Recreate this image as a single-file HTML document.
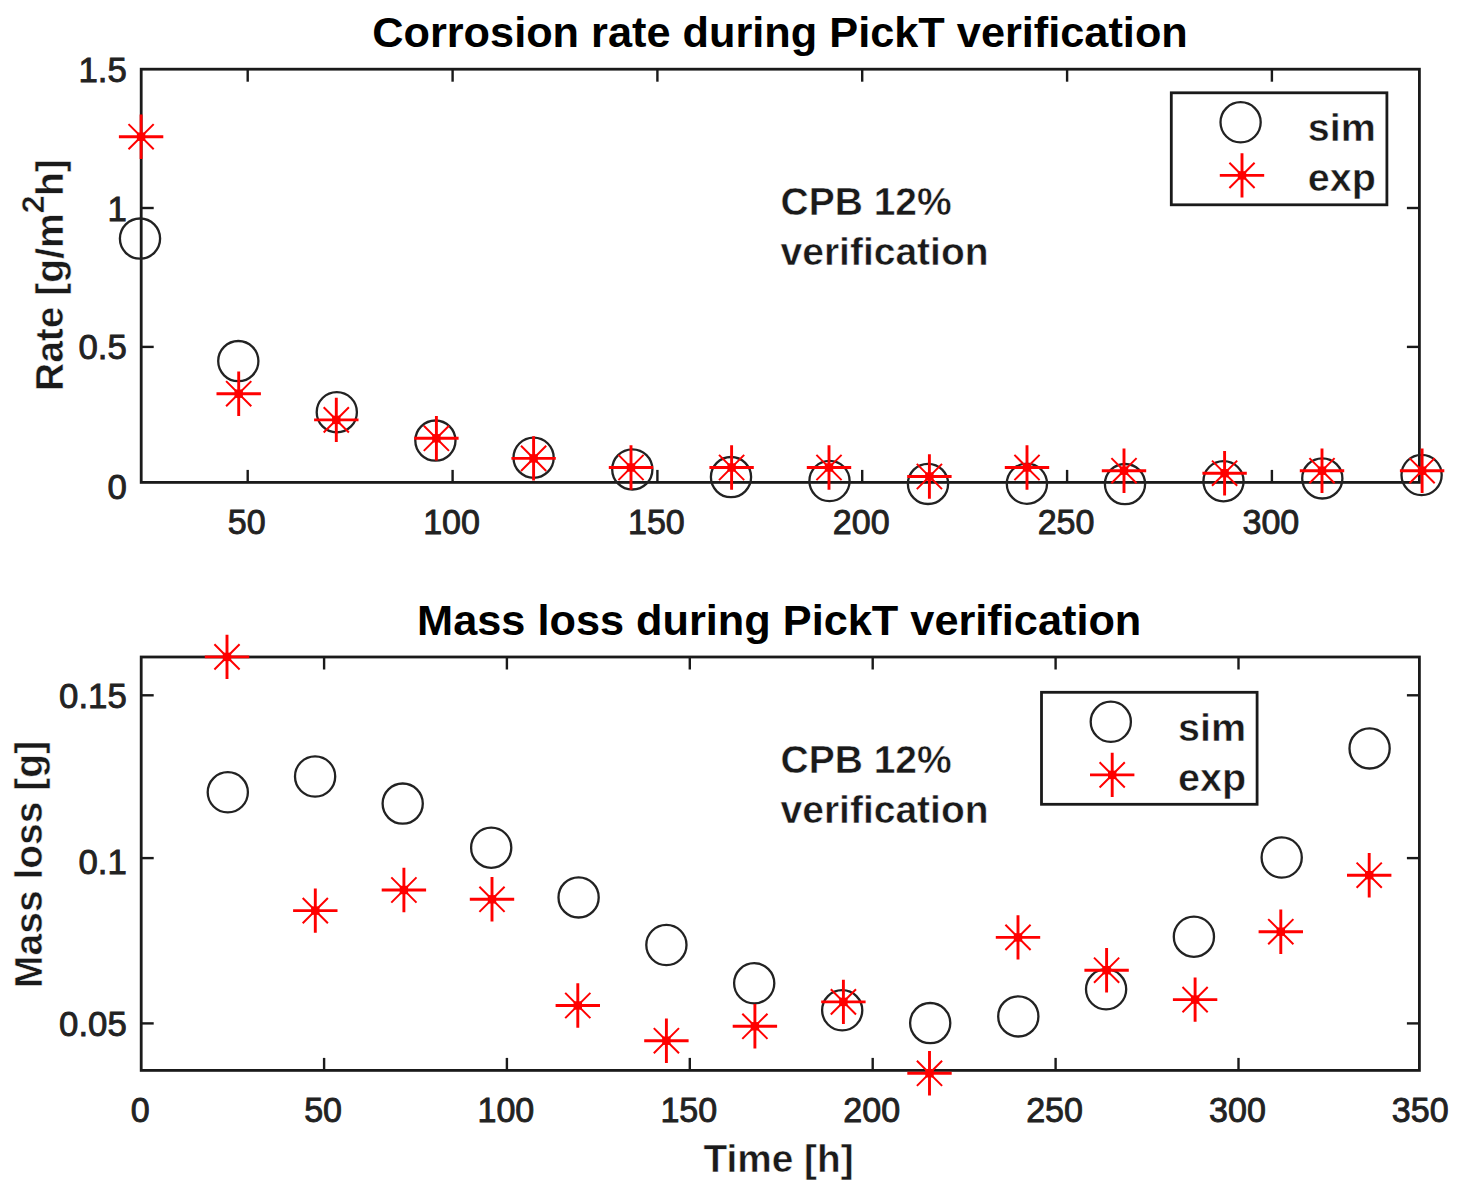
<!DOCTYPE html>
<html><head><meta charset="utf-8"><title>Corrosion rate</title>
<style>html,body{margin:0;padding:0;background:#fff;width:1463px;height:1192px;overflow:hidden}</style>
</head><body>
<svg width="1463" height="1192" viewBox="0 0 1463 1192" style="position:absolute;left:0;top:0">
<rect x="0" y="0" width="1463" height="1192" fill="#fff"/>
<rect x="141.2" y="69.2" width="1278.2" height="413.2" fill="none" stroke="#1a1a1a" stroke-width="2.8"/>
<line x1="247.7" y1="482.4" x2="247.7" y2="469.9" stroke="#1a1a1a" stroke-width="2.4"/>
<line x1="247.7" y1="69.2" x2="247.7" y2="81.7" stroke="#1a1a1a" stroke-width="2.4"/>
<line x1="452.6" y1="482.4" x2="452.6" y2="469.9" stroke="#1a1a1a" stroke-width="2.4"/>
<line x1="452.6" y1="69.2" x2="452.6" y2="81.7" stroke="#1a1a1a" stroke-width="2.4"/>
<line x1="657.4" y1="482.4" x2="657.4" y2="469.9" stroke="#1a1a1a" stroke-width="2.4"/>
<line x1="657.4" y1="69.2" x2="657.4" y2="81.7" stroke="#1a1a1a" stroke-width="2.4"/>
<line x1="862.2" y1="482.4" x2="862.2" y2="469.9" stroke="#1a1a1a" stroke-width="2.4"/>
<line x1="862.2" y1="69.2" x2="862.2" y2="81.7" stroke="#1a1a1a" stroke-width="2.4"/>
<line x1="1067.1" y1="482.4" x2="1067.1" y2="469.9" stroke="#1a1a1a" stroke-width="2.4"/>
<line x1="1067.1" y1="69.2" x2="1067.1" y2="81.7" stroke="#1a1a1a" stroke-width="2.4"/>
<line x1="1271.9" y1="482.4" x2="1271.9" y2="469.9" stroke="#1a1a1a" stroke-width="2.4"/>
<line x1="1271.9" y1="69.2" x2="1271.9" y2="81.7" stroke="#1a1a1a" stroke-width="2.4"/>
<line x1="141.2" y1="346.9" x2="153.7" y2="346.9" stroke="#1a1a1a" stroke-width="2.4"/>
<line x1="1419.4" y1="346.9" x2="1406.9" y2="346.9" stroke="#1a1a1a" stroke-width="2.4"/>
<line x1="141.2" y1="208.0" x2="153.7" y2="208.0" stroke="#1a1a1a" stroke-width="2.4"/>
<line x1="1419.4" y1="208.0" x2="1406.9" y2="208.0" stroke="#1a1a1a" stroke-width="2.4"/>
<rect x="141.2" y="657.0" width="1278.2" height="413.4000000000001" fill="none" stroke="#1a1a1a" stroke-width="2.8"/>
<line x1="324.1" y1="1070.4" x2="324.1" y2="1057.9" stroke="#1a1a1a" stroke-width="2.4"/>
<line x1="324.1" y1="657.0" x2="324.1" y2="669.5" stroke="#1a1a1a" stroke-width="2.4"/>
<line x1="506.9" y1="1070.4" x2="506.9" y2="1057.9" stroke="#1a1a1a" stroke-width="2.4"/>
<line x1="506.9" y1="657.0" x2="506.9" y2="669.5" stroke="#1a1a1a" stroke-width="2.4"/>
<line x1="689.8" y1="1070.4" x2="689.8" y2="1057.9" stroke="#1a1a1a" stroke-width="2.4"/>
<line x1="689.8" y1="657.0" x2="689.8" y2="669.5" stroke="#1a1a1a" stroke-width="2.4"/>
<line x1="872.7" y1="1070.4" x2="872.7" y2="1057.9" stroke="#1a1a1a" stroke-width="2.4"/>
<line x1="872.7" y1="657.0" x2="872.7" y2="669.5" stroke="#1a1a1a" stroke-width="2.4"/>
<line x1="1055.6" y1="1070.4" x2="1055.6" y2="1057.9" stroke="#1a1a1a" stroke-width="2.4"/>
<line x1="1055.6" y1="657.0" x2="1055.6" y2="669.5" stroke="#1a1a1a" stroke-width="2.4"/>
<line x1="1238.5" y1="1070.4" x2="1238.5" y2="1057.9" stroke="#1a1a1a" stroke-width="2.4"/>
<line x1="1238.5" y1="657.0" x2="1238.5" y2="669.5" stroke="#1a1a1a" stroke-width="2.4"/>
<line x1="141.2" y1="695.3" x2="153.7" y2="695.3" stroke="#1a1a1a" stroke-width="2.4"/>
<line x1="1419.4" y1="695.3" x2="1406.9" y2="695.3" stroke="#1a1a1a" stroke-width="2.4"/>
<line x1="141.2" y1="858.1" x2="153.7" y2="858.1" stroke="#1a1a1a" stroke-width="2.4"/>
<line x1="1419.4" y1="858.1" x2="1406.9" y2="858.1" stroke="#1a1a1a" stroke-width="2.4"/>
<line x1="141.2" y1="1023.4" x2="153.7" y2="1023.4" stroke="#1a1a1a" stroke-width="2.4"/>
<line x1="1419.4" y1="1023.4" x2="1406.9" y2="1023.4" stroke="#1a1a1a" stroke-width="2.4"/>
<text x="246.7" y="534.3" font-family='"Liberation Sans", sans-serif' font-weight="normal" font-size="35.5" text-anchor="middle" fill="#222" stroke="#222" stroke-width="0.9" transform="translate(246.72,0) scale(0.96,1) translate(-246.72,0)">50</text>
<text x="451.6" y="534.3" font-family='"Liberation Sans", sans-serif' font-weight="normal" font-size="35.5" text-anchor="middle" fill="#222" stroke="#222" stroke-width="0.9" transform="translate(451.56,0) scale(0.96,1) translate(-451.56,0)">100</text>
<text x="656.4" y="534.3" font-family='"Liberation Sans", sans-serif' font-weight="normal" font-size="35.5" text-anchor="middle" fill="#222" stroke="#222" stroke-width="0.9" transform="translate(656.40,0) scale(0.96,1) translate(-656.40,0)">150</text>
<text x="861.2" y="534.3" font-family='"Liberation Sans", sans-serif' font-weight="normal" font-size="35.5" text-anchor="middle" fill="#222" stroke="#222" stroke-width="0.9" transform="translate(861.24,0) scale(0.96,1) translate(-861.24,0)">200</text>
<text x="1066.1" y="534.3" font-family='"Liberation Sans", sans-serif' font-weight="normal" font-size="35.5" text-anchor="middle" fill="#222" stroke="#222" stroke-width="0.9" transform="translate(1066.08,0) scale(0.96,1) translate(-1066.08,0)">250</text>
<text x="1270.9" y="534.3" font-family='"Liberation Sans", sans-serif' font-weight="normal" font-size="35.5" text-anchor="middle" fill="#222" stroke="#222" stroke-width="0.9" transform="translate(1270.92,0) scale(0.96,1) translate(-1270.92,0)">300</text>
<text x="140.2" y="1122.0" font-family='"Liberation Sans", sans-serif' font-weight="normal" font-size="35.5" text-anchor="middle" fill="#222" stroke="#222" stroke-width="0.9" transform="translate(140.20,0) scale(0.96,1) translate(-140.20,0)">0</text>
<text x="323.1" y="1122.0" font-family='"Liberation Sans", sans-serif' font-weight="normal" font-size="35.5" text-anchor="middle" fill="#222" stroke="#222" stroke-width="0.9" transform="translate(323.07,0) scale(0.96,1) translate(-323.07,0)">50</text>
<text x="505.9" y="1122.0" font-family='"Liberation Sans", sans-serif' font-weight="normal" font-size="35.5" text-anchor="middle" fill="#222" stroke="#222" stroke-width="0.9" transform="translate(505.95,0) scale(0.96,1) translate(-505.95,0)">100</text>
<text x="688.8" y="1122.0" font-family='"Liberation Sans", sans-serif' font-weight="normal" font-size="35.5" text-anchor="middle" fill="#222" stroke="#222" stroke-width="0.9" transform="translate(688.83,0) scale(0.96,1) translate(-688.83,0)">150</text>
<text x="871.7" y="1122.0" font-family='"Liberation Sans", sans-serif' font-weight="normal" font-size="35.5" text-anchor="middle" fill="#222" stroke="#222" stroke-width="0.9" transform="translate(871.70,0) scale(0.96,1) translate(-871.70,0)">200</text>
<text x="1054.6" y="1122.0" font-family='"Liberation Sans", sans-serif' font-weight="normal" font-size="35.5" text-anchor="middle" fill="#222" stroke="#222" stroke-width="0.9" transform="translate(1054.58,0) scale(0.96,1) translate(-1054.58,0)">250</text>
<text x="1237.5" y="1122.0" font-family='"Liberation Sans", sans-serif' font-weight="normal" font-size="35.5" text-anchor="middle" fill="#222" stroke="#222" stroke-width="0.9" transform="translate(1237.45,0) scale(0.96,1) translate(-1237.45,0)">300</text>
<text x="1420.3" y="1122.0" font-family='"Liberation Sans", sans-serif' font-weight="normal" font-size="35.5" text-anchor="middle" fill="#222" stroke="#222" stroke-width="0.9" transform="translate(1420.33,0) scale(0.96,1) translate(-1420.33,0)">350</text>
<text x="126.8" y="498.6" font-family='"Liberation Sans", sans-serif' font-weight="normal" font-size="35.5" text-anchor="end" fill="#222" stroke="#222" stroke-width="0.9" transform="translate(126.80,0) scale(0.98,1) translate(-126.80,0)">0</text>
<text x="126.8" y="359.4" font-family='"Liberation Sans", sans-serif' font-weight="normal" font-size="35.5" text-anchor="end" fill="#222" stroke="#222" stroke-width="0.9" transform="translate(126.80,0) scale(0.98,1) translate(-126.80,0)">0.5</text>
<text x="126.8" y="221.0" font-family='"Liberation Sans", sans-serif' font-weight="normal" font-size="35.5" text-anchor="end" fill="#222" stroke="#222" stroke-width="0.9" transform="translate(126.80,0) scale(0.98,1) translate(-126.80,0)">1</text>
<text x="126.8" y="82.0" font-family='"Liberation Sans", sans-serif' font-weight="normal" font-size="35.5" text-anchor="end" fill="#222" stroke="#222" stroke-width="0.9" transform="translate(126.80,0) scale(0.98,1) translate(-126.80,0)">1.5</text>
<text x="126.8" y="1036.1" font-family='"Liberation Sans", sans-serif' font-weight="normal" font-size="35.5" text-anchor="end" fill="#222" stroke="#222" stroke-width="0.9" transform="translate(126.80,0) scale(0.98,1) translate(-126.80,0)">0.05</text>
<text x="126.8" y="873.6" font-family='"Liberation Sans", sans-serif' font-weight="normal" font-size="35.5" text-anchor="end" fill="#222" stroke="#222" stroke-width="0.9" transform="translate(126.80,0) scale(0.98,1) translate(-126.80,0)">0.1</text>
<text x="126.8" y="708.2" font-family='"Liberation Sans", sans-serif' font-weight="normal" font-size="35.5" text-anchor="end" fill="#222" stroke="#222" stroke-width="0.9" transform="translate(126.80,0) scale(0.98,1) translate(-126.80,0)">0.15</text>
<text x="780.0" y="47.0" font-family='"Liberation Sans", sans-serif' font-weight="bold" font-size="43.3" text-anchor="middle" fill="#000" >Corrosion rate during PickT verification</text>
<text x="779.2" y="634.8" font-family='"Liberation Sans", sans-serif' font-weight="bold" font-size="43.3" text-anchor="middle" fill="#000" >Mass loss during PickT verification</text>
<text x="778.5" y="1172.0" font-family='"Liberation Sans", sans-serif' font-weight="bold" font-size="38.8" text-anchor="middle" fill="#1a1a1a" stroke="#fff" stroke-width="0.5" >Time [h]</text>
<text font-family='"Liberation Sans", sans-serif' font-weight="bold" font-size="39" text-anchor="middle" fill="#1a1a1a" stroke="#fff" stroke-width="0.5" transform="translate(42.4,864.4) rotate(-90)">Mass loss [g]</text>
<text font-family='"Liberation Sans", sans-serif' font-weight="bold" font-size="39" text-anchor="middle" fill="#1a1a1a" stroke="#fff" stroke-width="0.5" transform="translate(63,275.1) rotate(-90)">Rate [g/m<tspan font-size="32" dy="-19" dx="0">2</tspan><tspan dy="19" dx="-0.5">h]</tspan></text>
<text x="780.5" y="214.8" font-family='"Liberation Sans", sans-serif' font-weight="bold" font-size="39" text-anchor="start" fill="#1a1a1a" stroke="#fff" stroke-width="0.5" >CPB 12%</text>
<text x="780.5" y="264.8" font-family='"Liberation Sans", sans-serif' font-weight="bold" font-size="39" text-anchor="start" fill="#1a1a1a" stroke="#fff" stroke-width="0.5" >verification</text>
<text x="780.5" y="773.1" font-family='"Liberation Sans", sans-serif' font-weight="bold" font-size="39" text-anchor="start" fill="#1a1a1a" stroke="#fff" stroke-width="0.5" >CPB 12%</text>
<text x="780.5" y="823.1" font-family='"Liberation Sans", sans-serif' font-weight="bold" font-size="39" text-anchor="start" fill="#1a1a1a" stroke="#fff" stroke-width="0.5" >verification</text>
<circle cx="140.0" cy="238.6" r="20.1" fill="none" stroke="#222" stroke-width="2.3"/>
<circle cx="238.3" cy="361.1" r="20.1" fill="none" stroke="#222" stroke-width="2.3"/>
<circle cx="336.8" cy="412.2" r="20.1" fill="none" stroke="#222" stroke-width="2.3"/>
<circle cx="435.4" cy="440.6" r="20.1" fill="none" stroke="#222" stroke-width="2.3"/>
<circle cx="533.6" cy="457.7" r="20.1" fill="none" stroke="#222" stroke-width="2.3"/>
<circle cx="632.3" cy="469.4" r="20.1" fill="none" stroke="#222" stroke-width="2.3"/>
<circle cx="731.0" cy="477.1" r="20.1" fill="none" stroke="#222" stroke-width="2.3"/>
<circle cx="829.5" cy="481.0" r="20.1" fill="none" stroke="#222" stroke-width="2.3"/>
<circle cx="928.0" cy="483.9" r="20.1" fill="none" stroke="#222" stroke-width="2.3"/>
<circle cx="1026.9" cy="483.7" r="20.1" fill="none" stroke="#222" stroke-width="2.3"/>
<circle cx="1125.0" cy="484.1" r="20.1" fill="none" stroke="#222" stroke-width="2.3"/>
<circle cx="1223.5" cy="481.2" r="20.1" fill="none" stroke="#222" stroke-width="2.3"/>
<circle cx="1322.3" cy="478.4" r="20.1" fill="none" stroke="#222" stroke-width="2.3"/>
<circle cx="1421.6" cy="475.0" r="20.1" fill="none" stroke="#222" stroke-width="2.3"/>
<path d="M118.9 136.7H163.3M141.1 114.5V158.9" stroke="#ff0000" stroke-width="2.9" fill="none"/><path d="M128.5 124.1L153.7 149.3M128.5 149.3L153.7 124.1" stroke="#ff0000" stroke-width="2.0" fill="none"/><rect x="136.9" y="132.5" width="8.4" height="8.4" fill="#ff0000"/>
<path d="M216.5 393.7H260.9M238.7 371.5V415.9" stroke="#ff0000" stroke-width="2.9" fill="none"/><path d="M226.1 381.1L251.3 406.3M226.1 406.3L251.3 381.1" stroke="#ff0000" stroke-width="2.0" fill="none"/><rect x="234.5" y="389.5" width="8.4" height="8.4" fill="#ff0000"/>
<path d="M314.1 419.9H358.5M336.3 397.7V442.1" stroke="#ff0000" stroke-width="2.9" fill="none"/><path d="M323.7 407.3L348.9 432.5M323.7 432.5L348.9 407.3" stroke="#ff0000" stroke-width="2.0" fill="none"/><rect x="332.1" y="415.7" width="8.4" height="8.4" fill="#ff0000"/>
<path d="M414.2 438.3H458.6M436.4 416.1V460.5" stroke="#ff0000" stroke-width="2.9" fill="none"/><path d="M423.8 425.7L449.0 450.9M423.8 450.9L449.0 425.7" stroke="#ff0000" stroke-width="2.0" fill="none"/><rect x="432.2" y="434.1" width="8.4" height="8.4" fill="#ff0000"/>
<path d="M511.4 458.4H555.8M533.6 436.2V480.6" stroke="#ff0000" stroke-width="2.9" fill="none"/><path d="M521.0 445.8L546.2 471.0M521.0 471.0L546.2 445.8" stroke="#ff0000" stroke-width="2.0" fill="none"/><rect x="529.4" y="454.2" width="8.4" height="8.4" fill="#ff0000"/>
<path d="M608.8 467.5H653.2M631.0 445.3V489.7" stroke="#ff0000" stroke-width="2.9" fill="none"/><path d="M618.4 454.9L643.6 480.1M618.4 480.1L643.6 454.9" stroke="#ff0000" stroke-width="2.0" fill="none"/><rect x="626.8" y="463.3" width="8.4" height="8.4" fill="#ff0000"/>
<path d="M709.4 467.5H753.8M731.6 445.3V489.7" stroke="#ff0000" stroke-width="2.9" fill="none"/><path d="M719.0 454.9L744.2 480.1M719.0 480.1L744.2 454.9" stroke="#ff0000" stroke-width="2.0" fill="none"/><rect x="727.4" y="463.3" width="8.4" height="8.4" fill="#ff0000"/>
<path d="M806.8 467.5H851.2M829.0 445.3V489.7" stroke="#ff0000" stroke-width="2.9" fill="none"/><path d="M816.4 454.9L841.6 480.1M816.4 480.1L841.6 454.9" stroke="#ff0000" stroke-width="2.0" fill="none"/><rect x="824.8" y="463.3" width="8.4" height="8.4" fill="#ff0000"/>
<path d="M907.2 476.5H951.6M929.4 454.3V498.7" stroke="#ff0000" stroke-width="2.9" fill="none"/><path d="M916.8 463.9L942.0 489.1M916.8 489.1L942.0 463.9" stroke="#ff0000" stroke-width="2.0" fill="none"/><rect x="925.2" y="472.3" width="8.4" height="8.4" fill="#ff0000"/>
<path d="M1004.8 467.5H1049.2M1027.0 445.3V489.7" stroke="#ff0000" stroke-width="2.9" fill="none"/><path d="M1014.4 454.9L1039.6 480.1M1014.4 480.1L1039.6 454.9" stroke="#ff0000" stroke-width="2.0" fill="none"/><rect x="1022.8" y="463.3" width="8.4" height="8.4" fill="#ff0000"/>
<path d="M1101.8 470.7H1146.2M1124.0 448.5V492.9" stroke="#ff0000" stroke-width="2.9" fill="none"/><path d="M1111.4 458.1L1136.6 483.3M1111.4 483.3L1136.6 458.1" stroke="#ff0000" stroke-width="2.0" fill="none"/><rect x="1119.8" y="466.5" width="8.4" height="8.4" fill="#ff0000"/>
<path d="M1202.4 473.2H1246.8M1224.6 451.0V495.4" stroke="#ff0000" stroke-width="2.9" fill="none"/><path d="M1212.0 460.6L1237.2 485.8M1212.0 485.8L1237.2 460.6" stroke="#ff0000" stroke-width="2.0" fill="none"/><rect x="1220.4" y="469.0" width="8.4" height="8.4" fill="#ff0000"/>
<path d="M1299.8 470.7H1344.2M1322.0 448.5V492.9" stroke="#ff0000" stroke-width="2.9" fill="none"/><path d="M1309.4 458.1L1334.6 483.3M1309.4 483.3L1334.6 458.1" stroke="#ff0000" stroke-width="2.0" fill="none"/><rect x="1317.8" y="466.5" width="8.4" height="8.4" fill="#ff0000"/>
<path d="M1399.9 470.7H1444.3M1422.1 448.5V492.9" stroke="#ff0000" stroke-width="2.9" fill="none"/><path d="M1409.5 458.1L1434.7 483.3M1409.5 483.3L1434.7 458.1" stroke="#ff0000" stroke-width="2.0" fill="none"/><rect x="1417.9" y="466.5" width="8.4" height="8.4" fill="#ff0000"/>
<circle cx="227.8" cy="792.3" r="20.1" fill="none" stroke="#222" stroke-width="2.3"/>
<circle cx="315.1" cy="776.5" r="20.1" fill="none" stroke="#222" stroke-width="2.3"/>
<circle cx="402.7" cy="803.6" r="20.1" fill="none" stroke="#222" stroke-width="2.3"/>
<circle cx="491.2" cy="847.7" r="20.1" fill="none" stroke="#222" stroke-width="2.3"/>
<circle cx="578.6" cy="897.4" r="20.1" fill="none" stroke="#222" stroke-width="2.3"/>
<circle cx="666.4" cy="945.0" r="20.1" fill="none" stroke="#222" stroke-width="2.3"/>
<circle cx="754.2" cy="983.3" r="20.1" fill="none" stroke="#222" stroke-width="2.3"/>
<circle cx="842.2" cy="1010.3" r="20.1" fill="none" stroke="#222" stroke-width="2.3"/>
<circle cx="930.2" cy="1023.1" r="20.1" fill="none" stroke="#222" stroke-width="2.3"/>
<circle cx="1018.3" cy="1016.4" r="20.1" fill="none" stroke="#222" stroke-width="2.3"/>
<circle cx="1106.1" cy="989.3" r="20.1" fill="none" stroke="#222" stroke-width="2.3"/>
<circle cx="1193.9" cy="936.7" r="20.1" fill="none" stroke="#222" stroke-width="2.3"/>
<circle cx="1281.7" cy="857.5" r="20.1" fill="none" stroke="#222" stroke-width="2.3"/>
<circle cx="1369.6" cy="748.4" r="20.1" fill="none" stroke="#222" stroke-width="2.3"/>
<path d="M204.8 656.9H249.2M227.0 634.7V679.1" stroke="#ff0000" stroke-width="2.9" fill="none"/><path d="M214.4 644.3L239.6 669.5M214.4 669.5L239.6 644.3" stroke="#ff0000" stroke-width="2.0" fill="none"/><rect x="222.8" y="652.7" width="8.4" height="8.4" fill="#ff0000"/>
<path d="M293.1 910.6H337.5M315.3 888.4V932.8" stroke="#ff0000" stroke-width="2.9" fill="none"/><path d="M302.7 898.0L327.9 923.2M302.7 923.2L327.9 898.0" stroke="#ff0000" stroke-width="2.0" fill="none"/><rect x="311.1" y="906.4" width="8.4" height="8.4" fill="#ff0000"/>
<path d="M381.7 890.0H426.1M403.9 867.8V912.2" stroke="#ff0000" stroke-width="2.9" fill="none"/><path d="M391.3 877.4L416.5 902.6M391.3 902.6L416.5 877.4" stroke="#ff0000" stroke-width="2.0" fill="none"/><rect x="399.7" y="885.8" width="8.4" height="8.4" fill="#ff0000"/>
<path d="M469.8 899.3H514.2M492.0 877.1V921.5" stroke="#ff0000" stroke-width="2.9" fill="none"/><path d="M479.4 886.7L504.6 911.9M479.4 911.9L504.6 886.7" stroke="#ff0000" stroke-width="2.0" fill="none"/><rect x="487.8" y="895.1" width="8.4" height="8.4" fill="#ff0000"/>
<path d="M555.6 1005.5H600.0M577.8 983.3V1027.7" stroke="#ff0000" stroke-width="2.9" fill="none"/><path d="M565.2 992.9L590.4 1018.1M565.2 1018.1L590.4 992.9" stroke="#ff0000" stroke-width="2.0" fill="none"/><rect x="573.6" y="1001.3" width="8.4" height="8.4" fill="#ff0000"/>
<path d="M644.2 1040.7H688.6M666.4 1018.5V1062.9" stroke="#ff0000" stroke-width="2.9" fill="none"/><path d="M653.8 1028.1L679.0 1053.3M653.8 1053.3L679.0 1028.1" stroke="#ff0000" stroke-width="2.0" fill="none"/><rect x="662.2" y="1036.5" width="8.4" height="8.4" fill="#ff0000"/>
<path d="M732.7 1026.3H777.1M754.9 1004.1V1048.5" stroke="#ff0000" stroke-width="2.9" fill="none"/><path d="M742.3 1013.7L767.5 1038.9M742.3 1038.9L767.5 1013.7" stroke="#ff0000" stroke-width="2.0" fill="none"/><rect x="750.7" y="1022.1" width="8.4" height="8.4" fill="#ff0000"/>
<path d="M821.2 1001.9H865.6M843.4 979.7V1024.1" stroke="#ff0000" stroke-width="2.9" fill="none"/><path d="M830.8 989.3L856.0 1014.5M830.8 1014.5L856.0 989.3" stroke="#ff0000" stroke-width="2.0" fill="none"/><rect x="839.2" y="997.7" width="8.4" height="8.4" fill="#ff0000"/>
<path d="M907.3 1073.3H951.7M929.5 1051.1V1095.5" stroke="#ff0000" stroke-width="2.9" fill="none"/><path d="M916.9 1060.7L942.1 1085.9M916.9 1085.9L942.1 1060.7" stroke="#ff0000" stroke-width="2.0" fill="none"/><rect x="925.3" y="1069.1" width="8.4" height="8.4" fill="#ff0000"/>
<path d="M995.8 937.4H1040.2M1018.0 915.2V959.6" stroke="#ff0000" stroke-width="2.9" fill="none"/><path d="M1005.4 924.8L1030.6 950.0M1005.4 950.0L1030.6 924.8" stroke="#ff0000" stroke-width="2.0" fill="none"/><rect x="1013.8" y="933.2" width="8.4" height="8.4" fill="#ff0000"/>
<path d="M1084.4 970.2H1128.8M1106.6 948.0V992.4" stroke="#ff0000" stroke-width="2.9" fill="none"/><path d="M1094.0 957.6L1119.2 982.8M1094.0 982.8L1119.2 957.6" stroke="#ff0000" stroke-width="2.0" fill="none"/><rect x="1102.4" y="966.0" width="8.4" height="8.4" fill="#ff0000"/>
<path d="M1172.9 999.6H1217.3M1195.1 977.4V1021.8" stroke="#ff0000" stroke-width="2.9" fill="none"/><path d="M1182.5 987.0L1207.7 1012.2M1182.5 1012.2L1207.7 987.0" stroke="#ff0000" stroke-width="2.0" fill="none"/><rect x="1190.9" y="995.4" width="8.4" height="8.4" fill="#ff0000"/>
<path d="M1258.6 931.7H1303.0M1280.8 909.5V953.9" stroke="#ff0000" stroke-width="2.9" fill="none"/><path d="M1268.2 919.1L1293.4 944.3M1268.2 944.3L1293.4 919.1" stroke="#ff0000" stroke-width="2.0" fill="none"/><rect x="1276.6" y="927.5" width="8.4" height="8.4" fill="#ff0000"/>
<path d="M1347.0 875.2H1391.4M1369.2 853.0V897.4" stroke="#ff0000" stroke-width="2.9" fill="none"/><path d="M1356.6 862.6L1381.8 887.8M1356.6 887.8L1381.8 862.6" stroke="#ff0000" stroke-width="2.0" fill="none"/><rect x="1365.0" y="871.0" width="8.4" height="8.4" fill="#ff0000"/>
<rect x="1171.3" y="92.8" width="215.6" height="112" fill="#fff" stroke="#1a1a1a" stroke-width="2.8"/>
<circle cx="1240.6" cy="122.3" r="20.1" fill="none" stroke="#222" stroke-width="2.3"/>
<path d="M1219.8 175.4H1264.2M1242.0 153.2V197.6" stroke="#ff0000" stroke-width="2.9" fill="none"/><path d="M1229.4 162.8L1254.6 188.0M1229.4 188.0L1254.6 162.8" stroke="#ff0000" stroke-width="2.0" fill="none"/><rect x="1237.8" y="171.2" width="8.4" height="8.4" fill="#ff0000"/>
<text x="1307.8" y="141.4" font-family='"Liberation Sans", sans-serif' font-weight="bold" font-size="39.5" text-anchor="start" fill="#1a1a1a" stroke="#fff" stroke-width="0.5" >sim</text>
<text x="1307.8" y="191.4" font-family='"Liberation Sans", sans-serif' font-weight="bold" font-size="39.5" text-anchor="start" fill="#1a1a1a" stroke="#fff" stroke-width="0.5" >exp</text>
<rect x="1041.5" y="692.3" width="215.6" height="112" fill="#fff" stroke="#1a1a1a" stroke-width="2.8"/>
<circle cx="1110.8" cy="721.8" r="20.1" fill="none" stroke="#222" stroke-width="2.3"/>
<path d="M1090.0 774.9H1134.4M1112.2 752.7V797.1" stroke="#ff0000" stroke-width="2.9" fill="none"/><path d="M1099.6 762.3L1124.8 787.5M1099.6 787.5L1124.8 762.3" stroke="#ff0000" stroke-width="2.0" fill="none"/><rect x="1108.0" y="770.7" width="8.4" height="8.4" fill="#ff0000"/>
<text x="1178.0" y="740.9" font-family='"Liberation Sans", sans-serif' font-weight="bold" font-size="39.5" text-anchor="start" fill="#1a1a1a" stroke="#fff" stroke-width="0.5" >sim</text>
<text x="1178.0" y="790.9" font-family='"Liberation Sans", sans-serif' font-weight="bold" font-size="39.5" text-anchor="start" fill="#1a1a1a" stroke="#fff" stroke-width="0.5" >exp</text>
</svg>
</body></html>
